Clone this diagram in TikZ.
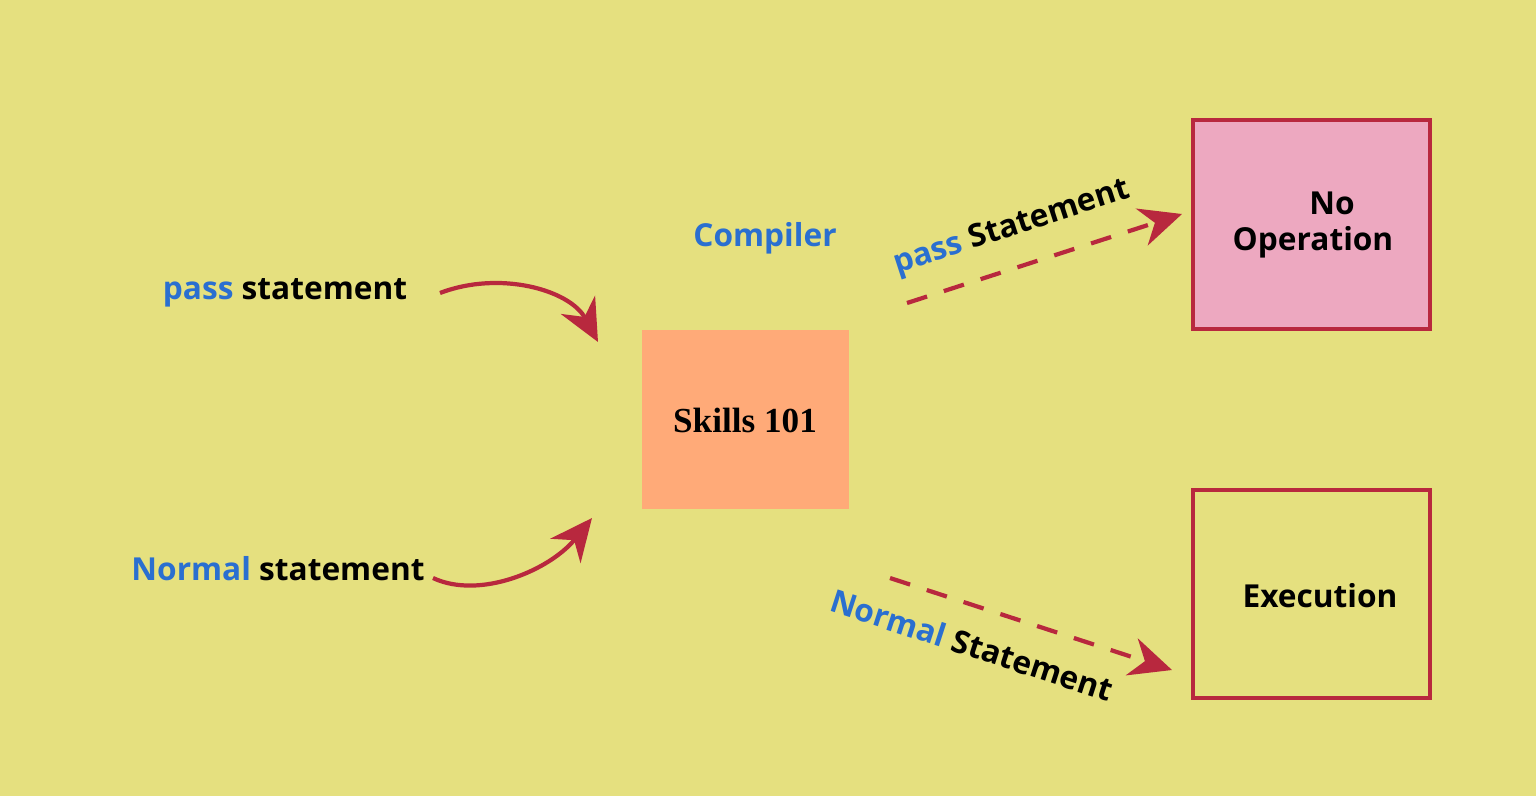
\documentclass[tikz,border=0pt]{standalone}
\usepackage{fontspec}
\setmainfont{Open Sans}
\newfontfamily\serifb{Liberation Serif}
\usetikzlibrary{arrows.meta}
\definecolor{bg}{HTML}{E5E07F}
\definecolor{arr}{HTML}{B8283E}
\definecolor{bl}{HTML}{2A6FD0}
\definecolor{boxo}{HTML}{FFAA78}
\definecolor{boxp}{HTML}{EDA8C0}
\begin{document}
\begin{tikzpicture}[x=0.01cm,y=-0.01cm,
  lbl/.style={font=\fontsize{9}{10.5}\selectfont\bfseries},
  arw/.style={draw=arr,line width=1.2pt,-{Stealth[length=12pt,width=11pt]}},
  darw/.style={arw,dash pattern=on 6pt off 5pt},
  bx/.style={draw=arr,line width=1.1pt,inner sep=0}]
\fill[bg] (0,0) rectangle (1536,796);
\useasboundingbox (0,0) rectangle (1536,796);
\node[fill=boxo,minimum width=207*0.01cm,minimum height=179*0.01cm,inner sep=0] (c) at (745.5,419.5) {};
\node[font=\serifb\fontsize{10}{12}\selectfont\bfseries] (ct) at (745,420) {Skills 101};
\node[bx,fill=boxp,minimum width=237*0.01cm,minimum height=209*0.01cm] (no) at (1311.5,224.5) {};
\node[lbl,align=center] (not) at (1313,225) {\hspace*{1.2em}No\\Operation};
\node[bx,minimum width=237*0.01cm,minimum height=208*0.01cm] (ex) at (1311.5,594) {};
\node[lbl] (ext) at (1320,596) {Execution};
\node[lbl,text=bl] (comp) at (765,238) {Compiler};
\node[lbl] (ps) at (285,293) {\textcolor{bl}{pass} statement};
\node[lbl] (ns) at (278,569) {\textcolor{bl}{Normal} statement};
\coordinate (a1) at (440,293); \coordinate (a2) at (598,342);
\coordinate (b1) at (433,578); \coordinate (b2) at (592,518);
\coordinate (d1) at (907,303); \coordinate (d2) at (1182,214);
\coordinate (e1) at (890,578); \coordinate (e2) at (1172,670);
\draw[arw] (a1) .. controls (500,270) and (570,290) .. (a2);
\draw[arw] (b1) .. controls (480,600) and (550,570) .. (b2);
\draw[darw] (d1) -- (d2);
\draw[darw] (e1) -- (e2);
\node[lbl,rotate=18] (pst) at (1012,228) {\textcolor{bl}{pass} Statement};
\node[lbl,rotate=-18] (nst) at (972,645) {\textcolor{bl}{Normal} Statement};
\end{tikzpicture}
\end{document}
